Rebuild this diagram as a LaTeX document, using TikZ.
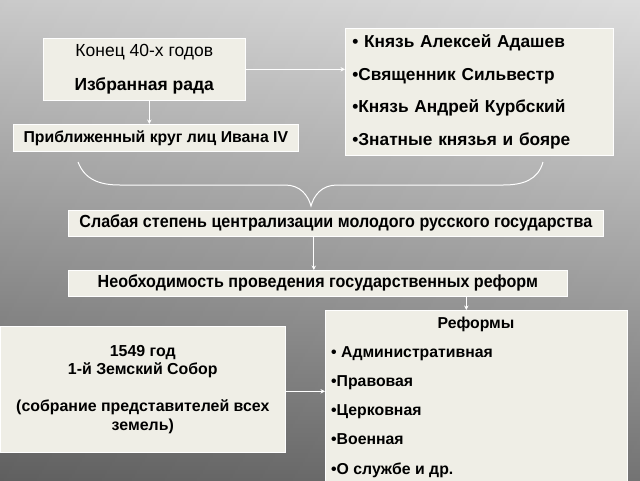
\documentclass[tikz,border=0pt]{standalone}
\usepackage{fontspec}
\setmainfont{Liberation Sans}
\newfontfamily\narrowbf[FakeStretch=0.92]{Liberation Sans Bold}
\usetikzlibrary{arrows.meta}
\definecolor{boxfill}{HTML}{EFEEE6}
\definecolor{bgtop}{HTML}{DBDBDB}
\definecolor{bgmid}{HTML}{A9A9A9}
\definecolor{bgbot}{HTML}{686868}
\begin{document}
\begin{tikzpicture}[x=1pt,y=-1pt,
  box/.style={draw=white, line width=0.6pt, fill=boxfill, inner sep=0pt, anchor=north west, text=black},
  conn/.style={draw=white, line width=0.9pt, -{Stealth[length=4.5pt,width=4.5pt]}},
  bracel/.style={draw=white, line width=1pt}]
\useasboundingbox (0,0) rectangle (640,480);
\shade[top color=bgtop, middle color=bgmid, bottom color=bgbot] (0,0) rectangle (640,480);
\shade[left color=black, right color=white, fill opacity=0.08] (0,0) rectangle (640,480);

\node[box, minimum width=202pt, minimum height=62pt, align=center,
  font=\fontsize{17.5}{34}\selectfont] (b1) at (43,38)
  {Конец 40-х годов\\\textbf{Избранная рада}};
\node[box, minimum width=285pt, minimum height=27pt,
  font=\bfseries\fontsize{15.8}{17}\selectfont] (b2) at (13,124)
  {Приближенный круг лиц Ивана IV};
\node[box, minimum width=268pt, minimum height=127pt, text width=254pt, inner xsep=7pt,
  align=left, font=\bfseries\fontsize{17.3}{32.7}\selectfont] (b3) at (345,28)
  {\raisebox{0pt}[0pt][0pt]{}• Князь Алексей Адашев\\•Священник Сильвестр\\•Князь Андрей Курбский\\•Знатные князья и бояре};
\node[box, minimum width=535pt, minimum height=26pt,
  font=\narrowbf\fontsize{17.5}{19}\selectfont] (slab) at (68,210)
  {Слабая степень централизации молодого русского государства};
\node[box, minimum width=499pt, minimum height=26pt,
  font=\narrowbf\fontsize{17.5}{19}\selectfont] (neob) at (68,270)
  {Необходимость проведения государственных реформ};
\node[box, minimum width=285pt, minimum height=126pt, align=center,
  font=\bfseries\fontsize{15.9}{18.5}\selectfont] (s1549) at (0,326)
  {1549 год\\1-й Земский Собор\\[18.5pt](собрание представителей всех\\земель)};
\node[box, minimum width=302pt, minimum height=175pt] (ref) at (325,310) {};
\node[font=\bfseries\fontsize{15.8}{18}\selectfont, inner sep=0pt] (refh) at (476,324) {Реформы};
\node[anchor=north west, align=left, inner sep=0pt,
  font=\bfseries\fontsize{15.8}{29.3}\selectfont] (refl) at (331,346)
  {• Административная\\•Правовая\\•Церковная\\•Военная\\•О службе и др.};

\draw[conn] ([xshift=5pt]b1.south) -- ([xshift=5pt]b1.south |- b2.north);
\draw[conn] (b1.east) -- (b1.east -| b3.west);
\draw[conn] ([xshift=-22pt]slab.south) -- ([xshift=-22pt]slab.south |- neob.north);
\draw[conn] ([xshift=148.5pt]neob.south) -- ([xshift=148.5pt]neob.south |- ref.north);
\draw[conn] ([yshift=-2pt]s1549.east) -- ([yshift=-2pt]s1549.east -| ref.west);

\draw[bracel] (78,162) .. controls (85,180) and (100,185) .. (120,185) -- (285,185)
  .. controls (300,185) and (308,195) .. (311,206)
  .. controls (314,195) and (322,185) .. (337,185) -- (503,185)
  .. controls (523,185) and (538,180) .. (543,162);
\end{tikzpicture}
\end{document}
